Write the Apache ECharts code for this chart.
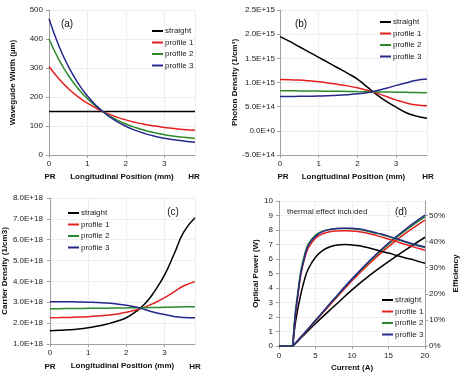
<!DOCTYPE html>
<html><head><meta charset="utf-8">
<script src="https://cdn.jsdelivr.net/npm/echarts@6/dist/echarts.min.js"></script>
<style>html,body{margin:0;padding:0;background:#fff}#c{width:474px;height:381px}</style>
</head><body><div id="c"></div>
<script>
// ---------- data ----------
const names = ['straight', 'profile 1', 'profile 2', 'profile 3'];
const colors = ['#000000', '#e3201f', '#2b8a2b', '#26288a'];

// longitudinal position (mm) for panels a, b, c
const pos = [0, 0.25, 0.5, 0.75, 1, 1.25, 1.5, 1.75, 2, 2.25, 2.5, 2.75, 3, 3.25, 3.5, 3.8];

// (a) waveguide width (um)
const widthStraight = [150, 150, 150, 150, 150, 150, 150, 150, 150, 150, 150, 150, 150, 150, 150, 150];
const widthP1 = [305, 263.5, 229.4, 201.4, 178.5, 159.6, 144.2, 131.5, 121.1, 112.5, 105.5, 99.7, 95.0, 91.1, 88.0, 85];
const widthP2 = [400, 330.8, 275.0, 230.0, 193.8, 164.6, 141.1, 122.1, 106.9, 94.6, 84.6, 76.7, 70.2, 65.0, 60.9, 57];
const widthP3 = [470, 378.6, 306.3, 249.0, 203.6, 167.8, 139.3, 116.9, 99.1, 85.0, 73.8, 65.0, 58.0, 52.4, 48.1, 44];

// (b) photon density (1/cm^3)
const photonStraight = [1.95e15, 1.85e15, 1.74e15, 1.63e15, 1.52e15, 1.41e15, 1.30e15, 1.19e15, 1.07e15, 0.91e15, 0.75e15, 0.61e15, 0.49e15, 0.38e15, 0.31e15, 0.26e15];
const photonP1 = [1.06e15, 1.058e15, 1.05e15, 1.035e15, 1.015e15, 0.99e15, 0.96e15, 0.93e15, 0.89e15, 0.84e15, 0.78e15, 0.71e15, 0.64e15, 0.58e15, 0.54e15, 0.52e15];
const photonP2 = [0.83e15, 0.828e15, 0.826e15, 0.824e15, 0.822e15, 0.82e15, 0.818e15, 0.815e15, 0.812e15, 0.81e15, 0.806e15, 0.803e15, 0.80e15, 0.797e15, 0.794e15, 0.79e15];
const photonP3 = [0.71e15, 0.711e15, 0.713e15, 0.716e15, 0.72e15, 0.727e15, 0.736e15, 0.749e15, 0.766e15, 0.79e15, 0.83e15, 0.88e15, 0.94e15, 0.99e15, 1.04e15, 1.07e15];

// (c) carrier density (1/cm3)
const carrierStraight = [1.64e18, 1.655e18, 1.68e18, 1.72e18, 1.78e18, 1.86e18, 1.96e18, 2.09e18, 2.26e18, 2.55e18, 2.95e18, 3.55e18, 4.30e18, 5.30e18, 6.35e18, 7.05e18];
const carrierP1 = [2.26e18, 2.265e18, 2.275e18, 2.29e18, 2.31e18, 2.34e18, 2.38e18, 2.44e18, 2.52e18, 2.63e18, 2.78e18, 2.98e18, 3.22e18, 3.50e18, 3.78e18, 3.99e18];
const carrierP2 = [2.69e18, 2.695e18, 2.70e18, 2.705e18, 2.71e18, 2.715e18, 2.72e18, 2.725e18, 2.73e18, 2.735e18, 2.74e18, 2.75e18, 2.76e18, 2.77e18, 2.78e18, 2.79e18];
const carrierP3 = [3.03e18, 3.028e18, 3.024e18, 3.016e18, 3.005e18, 2.99e18, 2.96e18, 2.92e18, 2.86e18, 2.77e18, 2.64e18, 2.51e18, 2.41e18, 2.32e18, 2.27e18, 2.26e18];

// (d) optical power (W) vs current (A)
const currentP = [0, 1, 1.9, 3, 5, 7.5, 10, 12.5, 15, 17.5, 20];
const powerStraight = [0, 0, 0, 0.55, 1.55, 2.72, 3.87, 4.9, 5.82, 6.68, 7.5];
const powerP1 = [0, 0, 0, 0.6, 1.72, 3.12, 4.5, 5.75, 6.85, 7.83, 8.68];
const powerP2 = [0, 0, 0, 0.62, 1.76, 3.2, 4.6, 5.88, 7.02, 8.02, 8.9];
const powerP3 = [0, 0, 0, 0.62, 1.77, 3.22, 4.63, 5.93, 7.1, 8.12, 9.02];

// (d) efficiency (%) vs current (A)
const currentE = [0, 1, 1.9, 2.2, 2.6, 3, 3.5, 4, 5, 6, 7, 8, 9, 10, 11, 12, 13, 14, 15, 16, 17, 18, 19, 20];
const effStraight = [0, 0, 0, 8, 14.5, 20, 25.5, 29.5, 34, 36.6, 38, 38.7, 38.9, 38.7, 38.4, 37.8, 37.1, 36.3, 35.6, 34.8, 34.0, 33.3, 32.5, 31.7];
const effP1 = [0, 0, 0, 10.5, 19.5, 27.5, 33.5, 37.5, 41.3, 43.0, 43.8, 44.1, 44.2, 44.1, 43.8, 43.3, 42.6, 41.8, 41.0, 40.1, 39.2, 38.3, 37.5, 36.7];
const effP2 = [0, 0, 0, 12, 21, 29, 35, 39, 42.5, 44.0, 44.7, 45.0, 45.0, 44.9, 44.6, 44.1, 43.4, 42.7, 41.9, 41.0, 40.1, 39.2, 38.4, 37.7];
const effP3 = [0, 0, 0, 11, 20, 28, 34, 38.5, 42.0, 43.8, 44.6, 45.0, 45.1, 45.1, 44.8, 44.3, 43.6, 42.9, 42.1, 41.2, 40.3, 39.4, 38.6, 37.9];

// tick labels
const posTicks = ['0', '1', '2', '3'];
const endLabels = ['PR', 'HR'];

// ---------- chart ----------
const FONT = '"Liberation Sans", Arial, sans-serif';
const pair = (xsArr, ys) => xsArr.map((x, i) => [x, ys[i]]);
function sci(v) {
  if (v === 0) return '0.0E+0';
  const e = Math.floor(Math.log10(Math.abs(v)) + 1e-9);
  const m = v / Math.pow(10, e);
  return m.toFixed(1) + 'E+' + e;
}
const axisLine = { show: true, onZero: false, lineStyle: { color: '#a0a0a0', width: 1 } };
const axisTick = { show: true, length: 3, lineStyle: { color: '#a0a0a0' } };
const split = { show: true, lineStyle: { color: '#eeeeee', width: 1 } };
const lbl = (extra) => Object.assign({ fontSize: 8, color: '#222', fontFamily: FONT }, extra || {});
const nameStyle = { fontSize: 8, fontWeight: 'bold', color: '#111', fontFamily: FONT };

const grids = [
  { left: 49, top: 10, width: 146, height: 145 },
  { left: 280, top: 10, width: 147, height: 145 },
  { left: 49, top: 198, width: 146, height: 146 },
  { left: 279, top: 201, width: 146, height: 145 }
];

function posAxis(gi) {
  return {
    type: 'value', gridIndex: gi, min: 0, max: 3.8, interval: 1,
    axisLine, axisTick, splitLine: split,
    axisLabel: lbl({ margin: 5, showMaxLabel: false, formatter: v => posTicks[Math.round(v)] !== undefined ? posTicks[Math.round(v)] : '' }),
    name: 'Longitudinal Position (mm)', nameLocation: 'middle', nameGap: 18, nameTextStyle: nameStyle
  };
}

const xAxes = [
  posAxis(0), posAxis(1), posAxis(2),
  { type: 'value', gridIndex: 3, min: 0, max: 20, interval: 5, axisLine, axisTick, splitLine: split,
    axisLabel: lbl({ margin: 6 }), name: 'Current (A)', nameLocation: 'middle', nameGap: 18, nameTextStyle: nameStyle }
];

const yAxes = [
  { type: 'value', gridIndex: 0, min: 0, max: 500, interval: 100, axisLine, axisTick, splitLine: split,
    axisLabel: lbl({ margin: 6 }), name: 'Waveguide Width (µm)', nameLocation: 'middle', nameRotate: 90, nameGap: 32, nameTextStyle: nameStyle },
  { type: 'value', gridIndex: 1, min: -5e14, max: 2.5e15, interval: 5e14, axisLine, axisTick, splitLine: split,
    axisLabel: lbl({ margin: 5, formatter: sci }), name: 'Photon Density (1/cm³)', nameLocation: 'middle', nameRotate: 90, nameGap: 37, nameTextStyle: nameStyle },
  { type: 'value', gridIndex: 2, min: 1e18, max: 8e18, interval: 1e18, axisLine, axisTick, splitLine: split,
    axisLabel: lbl({ margin: 7, formatter: sci }), name: 'Carrier Density (1/cm3)', nameLocation: 'middle', nameRotate: 90, nameGap: 38, nameTextStyle: nameStyle },
  { type: 'value', gridIndex: 3, min: 0, max: 10, interval: 1, axisLine, axisTick, splitLine: split,
    axisLabel: lbl({ margin: 6 }), name: 'Optical Power (W)', nameLocation: 'middle', nameRotate: 90, nameGap: 17, nameTextStyle: nameStyle },
  { type: 'value', gridIndex: 3, position: 'right', min: 0, max: 55.5556, interval: 10, axisLine, axisTick, splitLine: { show: false },
    axisLabel: lbl({ margin: 4, showMaxLabel: false, formatter: '{value}%' }), name: 'Efficiency', nameLocation: 'middle', nameRotate: 90, nameGap: 27, nameTextStyle: nameStyle }
];

const series = [];
function mk(name, k, xi, yi, data, smooth) {
  return {
    type: 'line', name, xAxisIndex: xi, yAxisIndex: yi,
    data, showSymbol: false, symbol: 'none', smooth,
    lineStyle: { color: colors[k], width: 1.5 }, itemStyle: { color: colors[k] }
  };
}
function addLines(xi, yi, xsArr, arrs, smooth) {
  arrs.forEach((arr, k) => series.push(mk(names[k], k, xi, yi, pair(xsArr, arr), smooth)));
}
// panel d: flat part below threshold drawn straight, curve above threshold smoothed
function addThresholdLines(xi, yi, xsArr, arrs, smooth, thIndex) {
  arrs.forEach((arr, k) => {
    const d = pair(xsArr, arr);
    series.push(mk(names[k], k, xi, yi, d.slice(0, thIndex + 1), false));
    series.push(mk(names[k], k, xi, yi, d.slice(thIndex), smooth));
  });
}
addLines(0, 0, pos, [widthStraight, widthP1, widthP2, widthP3], 0.5);
addLines(1, 1, pos, [photonStraight, photonP1, photonP2, photonP3], 0.5);
addLines(2, 2, pos, [carrierStraight, carrierP1, carrierP2, carrierP3], 0.5);
addThresholdLines(3, 3, currentP, [powerStraight, powerP1, powerP2, powerP3], 0.4, 2);
addThresholdLines(3, 4, currentE, [effStraight, effP1, effP2, effP3], 0.4, 2);

function legend(left, top) {
  return {
    data: names, orient: 'vertical', left, top, itemWidth: 11, itemHeight: 2, itemGap: 3.5, icon: 'rect',
    selectedMode: false, textStyle: { fontSize: 8, color: '#222', fontFamily: FONT, padding: [0, 0, 0, -3] }
  };
}

function txt(x, y, s, size, bold) {
  return { type: 'text', x, y, style: { text: s, fontSize: size, fontWeight: bold ? 'bold' : 'normal', fill: '#111', fontFamily: FONT, align: 'center', verticalAlign: 'middle' } };
}

const graphic = [
  txt(67, 24, '(a)', 10), txt(301, 24, '(b)', 10), txt(173, 212, '(c)', 10), txt(401, 212, '(d)', 10),
  txt(50, 177, endLabels[0], 8, true), txt(194, 177, endLabels[1], 8, true),
  txt(283, 177, endLabels[0], 8, true), txt(428, 177, endLabels[1], 8, true),
  txt(50, 367, endLabels[0], 8, true), txt(195, 367, endLabels[1], 8, true),
  { type: 'text', x: 287, y: 212, style: { text: 'thermal effect included', fontSize: 8, fill: '#222', fontFamily: FONT, align: 'left', verticalAlign: 'middle' } }
];

const chart = echarts.init(document.getElementById('c'), null, { renderer: 'canvas' });
chart.setOption({
  animation: false,
  backgroundColor: '#fff',
  grid: grids,
  xAxis: xAxes,
  yAxis: yAxes,
  legend: [legend(147, 22), legend(375, 13), legend(63, 204), legend(377, 291)],
  series,
  graphic
});
</script></body></html>
